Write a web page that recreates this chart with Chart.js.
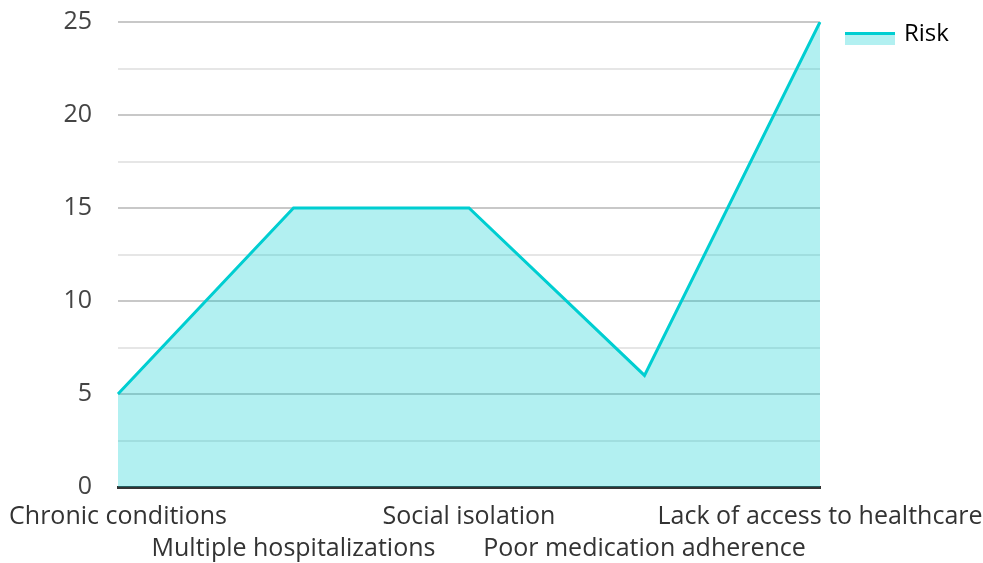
<!DOCTYPE html>
<html>
<head>
<meta charset="utf-8">
<script src="https://cdn.jsdelivr.net/npm/chart.js@4"></script>
<style>
  html, body { margin: 0; padding: 0; background: #fff; }
  #wrap { width: 983px; height: 563px; }
</style>
</head>
<body>
<div id="wrap"><canvas id="riskChart"></canvas></div>
<script>
const categories = ["Chronic conditions", "Multiple hospitalizations", "Social isolation", "Poor medication adherence", "Lack of access to healthcare"];
const riskValues = [5, 15, 15, 6, 25];
const yTicks = [0, 5, 10, 15, 20, 25];

// stagger the x labels on two rows
const staggered = categories.map((c, i) => i % 2 === 0 ? [c] : ["", c]);

Chart.defaults.font.family = "'Open Sans', 'Noto Sans', sans-serif";
Chart.defaults.font.size = 25;
Chart.defaults.color = "#444";

// legend swatch: light fill with the line colour on top
const legendSwatch = {
    id: "legendSwatch",
    afterDraw(chart) {
        const legend = chart.legend;
        if (!legend || !legend.legendHitBoxes) return;
        const ctx = chart.ctx;
        legend.legendHitBoxes.forEach((box, i) => {
            const ds = chart.data.datasets[i];
            const top = box.top + 10;
            ctx.save();
            ctx.fillStyle = ds.backgroundColor;
            ctx.fillRect(box.left + 3, top, 50, 13);
            ctx.strokeStyle = ds.borderColor;
            ctx.lineWidth = 3;
            ctx.beginPath();
            ctx.moveTo(box.left + 3, top + 1.5);
            ctx.lineTo(box.left + 53, top + 1.5);
            ctx.stroke();
            ctx.restore();
        });
    }
};

new Chart(document.getElementById("riskChart"), {
    type: "line",
    data: {
        labels: staggered,
        datasets: [{
            label: "Risk",
            data: riskValues,
            borderColor: "#00ced1",
            backgroundColor: "rgba(0,206,209,0.3)",
            borderWidth: 3,
            fill: "origin",
            tension: 0,
            pointRadius: 0
        }]
    },
    options: {
        responsive: true,
        maintainAspectRatio: false,
        animation: false,
        layout: { padding: { top: 0, bottom: -16, left: 0, right: 0 } },
        plugins: {
            legend: {
                position: "right",
                align: "start",
                labels: {
                    boxWidth: 50,
                    boxHeight: 13,
                    padding: 22,
                    color: "#333",
                    font: { size: 24 },
                    generateLabels(chart) {
                        return chart.data.datasets.map((ds, i) => ({
                            text: ds.label,
                            fillStyle: "rgba(0,0,0,0)",
                            strokeStyle: "rgba(0,0,0,0)",
                            lineWidth: 0,
                            datasetIndex: i
                        }));
                    }
                }
            },
            tooltip: { enabled: false }
        },
        scales: {
            x: {
                offset: false,
                grid: { display: false, drawTicks: false },
                border: { display: true, color: "#333", width: 3 },
                afterFit(axis) {
                    axis.paddingLeft = 118;
                    axis.paddingRight = 163;
                },
                ticks: { maxRotation: 0, autoSkip: false, padding: 14, color: "#333", font: { lineHeight: 1.28 } }
            },
            y: {
                min: 0,
                max: 25,
                afterBuildTicks(axis) {
                    const t = [];
                    for (let v = 0; v <= 25; v += 2.5) t.push({ value: v });
                    axis.ticks = t;
                },
                afterFit(axis) {
                    axis.paddingTop = 22;
                    axis.paddingBottom = 15;
                },
                grid: {
                    drawTicks: false,
                    color: ctx => yTicks.includes(ctx.tick.value) ? "#c8c8c8" : "#e6e6e6",
                    lineWidth: 2
                },
                border: { display: false },
                ticks: {
                    padding: 26,
                    color: "#444",
                    callback: v => yTicks.includes(v) ? v : ""
                }
            }
        }
    },
    plugins: [legendSwatch]
});
</script>
</body>
</html>
